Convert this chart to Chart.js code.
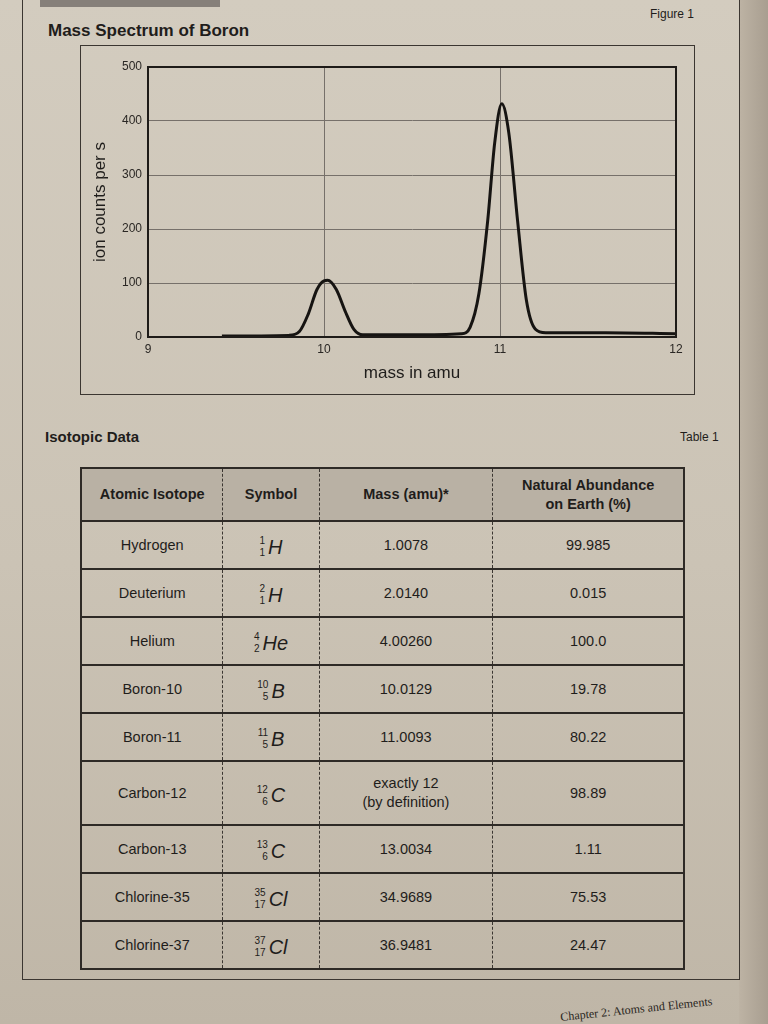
<!DOCTYPE html>
<html>
<head>
<meta charset="utf-8">
<script src="https://cdn.jsdelivr.net/npm/chart.js@4"></script>
<style>
  html, body { margin: 0; padding: 0; }
  body {
    width: 768px; height: 1024px; position: relative; overflow: hidden;
    background: linear-gradient(180deg, #d3ccbf 0%, #cbc3b5 55%, #bfb6a7 100%);
    font-family: 'Liberation Sans', Arial, sans-serif; color: #1f1d1b;
  }
  .abs { position: absolute; }
  .frame { left: 22px; top: -2px; width: 716px; height: 980px; border: 1.5px solid #3b3631; }
  .tab { left: 40px; top: 0; width: 180px; height: 7px; background: #86807a; }
  .edge { left: 739px; top: 0; width: 29px; height: 1024px; background: linear-gradient(90deg, #bdb3a4, #a89e90); }
  .fig-label { left: 650px; top: 7px; font-size: 12px; }
  .title { left: 48px; top: 21px; font-size: 17px; font-weight: bold; }
  .figbox { left: 80px; top: 45px; width: 615px; height: 350px; border: 1.5px solid #3b3631; box-sizing: border-box; }
  .figbox canvas { position: absolute; left: 0; top: 0; }
  .sub { left: 45px; top: 428px; font-size: 15px; font-weight: bold; }
  .tbl-label { left: 680px; top: 430px; font-size: 12px; }
  table { position: absolute; left: 80px; top: 467px; border-collapse: collapse; width: 605px; font-size: 14.5px; }
  th, td { text-align: center; padding: 0; border-top: 2px solid #2e2a26; border-bottom: 2px solid #2e2a26; border-left: 1px dashed #3b3631; border-right: 1px dashed #3b3631; }
  th:first-child, td:first-child { border-left: 2px solid #2e2a26; }
  th:last-child, td:last-child { border-right: 2px solid #2e2a26; }
  th { background: #b9b1a4; height: 51px; font-weight: bold; line-height: 19px; }
  td { height: 46px; }
  td.tall { height: 62px; line-height: 19px; }
  .sym { display: inline-flex; align-items: center; }
  .nums { display: inline-flex; flex-direction: column; align-items: flex-end; font-size: 10px; line-height: 12px; margin-right: 3px; }
  .el { font-style: italic; font-size: 20px; }
  .footer { left: 560px; top: 1002px; font-family: 'Liberation Serif', serif; font-size: 12px; transform: rotate(-6deg); color: #2a2622; }
</style>
</head>
<body>
<div class="abs edge"></div>
<div class="abs tab"></div>
<div class="abs frame"></div>
<div class="abs fig-label">Figure 1</div>
<div class="abs title">Mass Spectrum of Boron</div>
<div class="abs figbox"><canvas id="spectrum" width="612" height="347"></canvas></div>
<div class="abs sub">Isotopic Data</div>
<div class="abs tbl-label">Table 1</div>
<table id="isotopes"></table>
<div class="abs footer">Chapter 2: Atoms and Elements</div>
<script>
  // spectrum
  const massValues = [9.42, 9.8, 9.86, 9.91, 9.96, 10.0, 10.02, 10.07, 10.12, 10.17, 10.22, 10.5, 10.78, 10.83, 10.88, 10.93, 10.97, 11.01, 11.05, 11.1, 11.15, 11.2, 11.26, 11.6, 12.0];
  const ionCounts = [2, 3, 10, 42, 88, 104, 105, 88, 48, 14, 4, 4, 6, 18, 80, 215, 360, 432, 378, 215, 68, 15, 8, 8, 6];
  const xTicks = [9, 10, 11, 12];
  const yTicks = [0, 100, 200, 300, 400, 500];

  // table 1
  const isotopeNames = ['Hydrogen', 'Deuterium', 'Helium', 'Boron-10', 'Boron-11', 'Carbon-12', 'Carbon-13', 'Chlorine-35', 'Chlorine-37'];
  const massNumbers = ['1', '2', '4', '10', '11', '12', '13', '35', '37'];
  const atomicNumbers = ['1', '1', '2', '5', '5', '6', '6', '17', '17'];
  const elements = ['H', 'H', 'He', 'B', 'B', 'C', 'C', 'Cl', 'Cl'];
  const isotopeMasses = ['1.0078', '2.0140', '4.00260', '10.0129', '11.0093', 'exactly 12<br>(by definition)', '13.0034', '34.9689', '36.9481'];
  const abundances = ['99.985', '0.015', '100.0', '19.78', '80.22', '98.89', '1.11', '75.53', '24.47'];
  const headers = ['Atomic Isotope', 'Symbol', 'Mass (amu)*', 'Natural Abundance<br>on Earth (%)'];
  const colWidths = [142, 96, 175, 192];

  const table = document.getElementById('isotopes');
  const head = document.createElement('tr');
  headers.forEach((text, i) => {
    const th = document.createElement('th');
    th.style.width = colWidths[i] + 'px';
    th.innerHTML = text;
    head.appendChild(th);
  });
  table.appendChild(head);
  isotopeNames.forEach((name, i) => {
    const tr = document.createElement('tr');
    const tall = isotopeMasses[i].includes('<br>') ? ' class="tall"' : '';
    tr.innerHTML =
      `<td${tall}>${name}</td>` +
      `<td${tall}><span class="sym"><span class="nums"><span>${massNumbers[i]}</span><span>${atomicNumbers[i]}</span></span><span class="el">${elements[i]}</span></span></td>` +
      `<td${tall}>${isotopeMasses[i]}</td>` +
      `<td${tall}>${abundances[i]}</td>`;
    table.appendChild(tr);
  });

  const plotBox = {
    id: 'plotBox',
    afterDraw(chart) {
      const { ctx, chartArea: a } = chart;
      ctx.save();
      ctx.strokeStyle = '#1e1b18';
      ctx.lineWidth = 2;
      ctx.strokeRect(a.left, a.top, a.right - a.left, a.bottom - a.top);
      ctx.restore();
    },
  };

  new Chart(document.getElementById('spectrum'), {
    type: 'line',
    data: {
      datasets: [{
        data: massValues.map((m, i) => ({ x: m, y: ionCounts[i] })),
        borderColor: '#161412',
        borderWidth: 3,
        pointRadius: 0,
        cubicInterpolationMode: 'monotone',
        fill: false,
      }],
    },
    options: {
      responsive: false,
      animation: false,
      layout: { padding: { top: 21, right: 17, left: 0, bottom: 0 } },
      plugins: { legend: { display: false }, tooltip: { enabled: false } },
      scales: {
        x: {
          type: 'linear',
          min: 9,
          max: 12,
          afterBuildTicks: (axis) => { axis.ticks = xTicks.map((v) => ({ value: v })); },
          afterFit: (axis) => { axis.height = 56; },
          grid: { color: '#76706a', lineWidth: 1, drawTicks: false },
          border: { color: '#1e1b18', width: 2 },
          ticks: { color: '#2a2724', font: { family: 'Liberation Sans', size: 12 }, padding: 5 },
          title: { display: true, text: 'mass in amu', color: '#1f1d1b', font: { family: 'Liberation Sans', size: 17 }, padding: { top: 0, bottom: 9 } },
        },
        y: {
          min: 0,
          max: 500,
          afterBuildTicks: (axis) => { axis.ticks = yTicks.map((v) => ({ value: v })); },
          afterFit: (axis) => { axis.width = 67; },
          grid: { color: '#76706a', lineWidth: 1, drawTicks: false },
          border: { color: '#1e1b18', width: 2 },
          ticks: { color: '#2a2724', font: { family: 'Liberation Sans', size: 12 }, padding: 6 },
          title: { display: true, text: 'ion counts per s', color: '#1f1d1b', font: { family: 'Liberation Sans', size: 17 }, padding: { top: 9, bottom: 0 } },
        },
      },
    },
    plugins: [plotBox],
  });
</script>
</body>
</html>
